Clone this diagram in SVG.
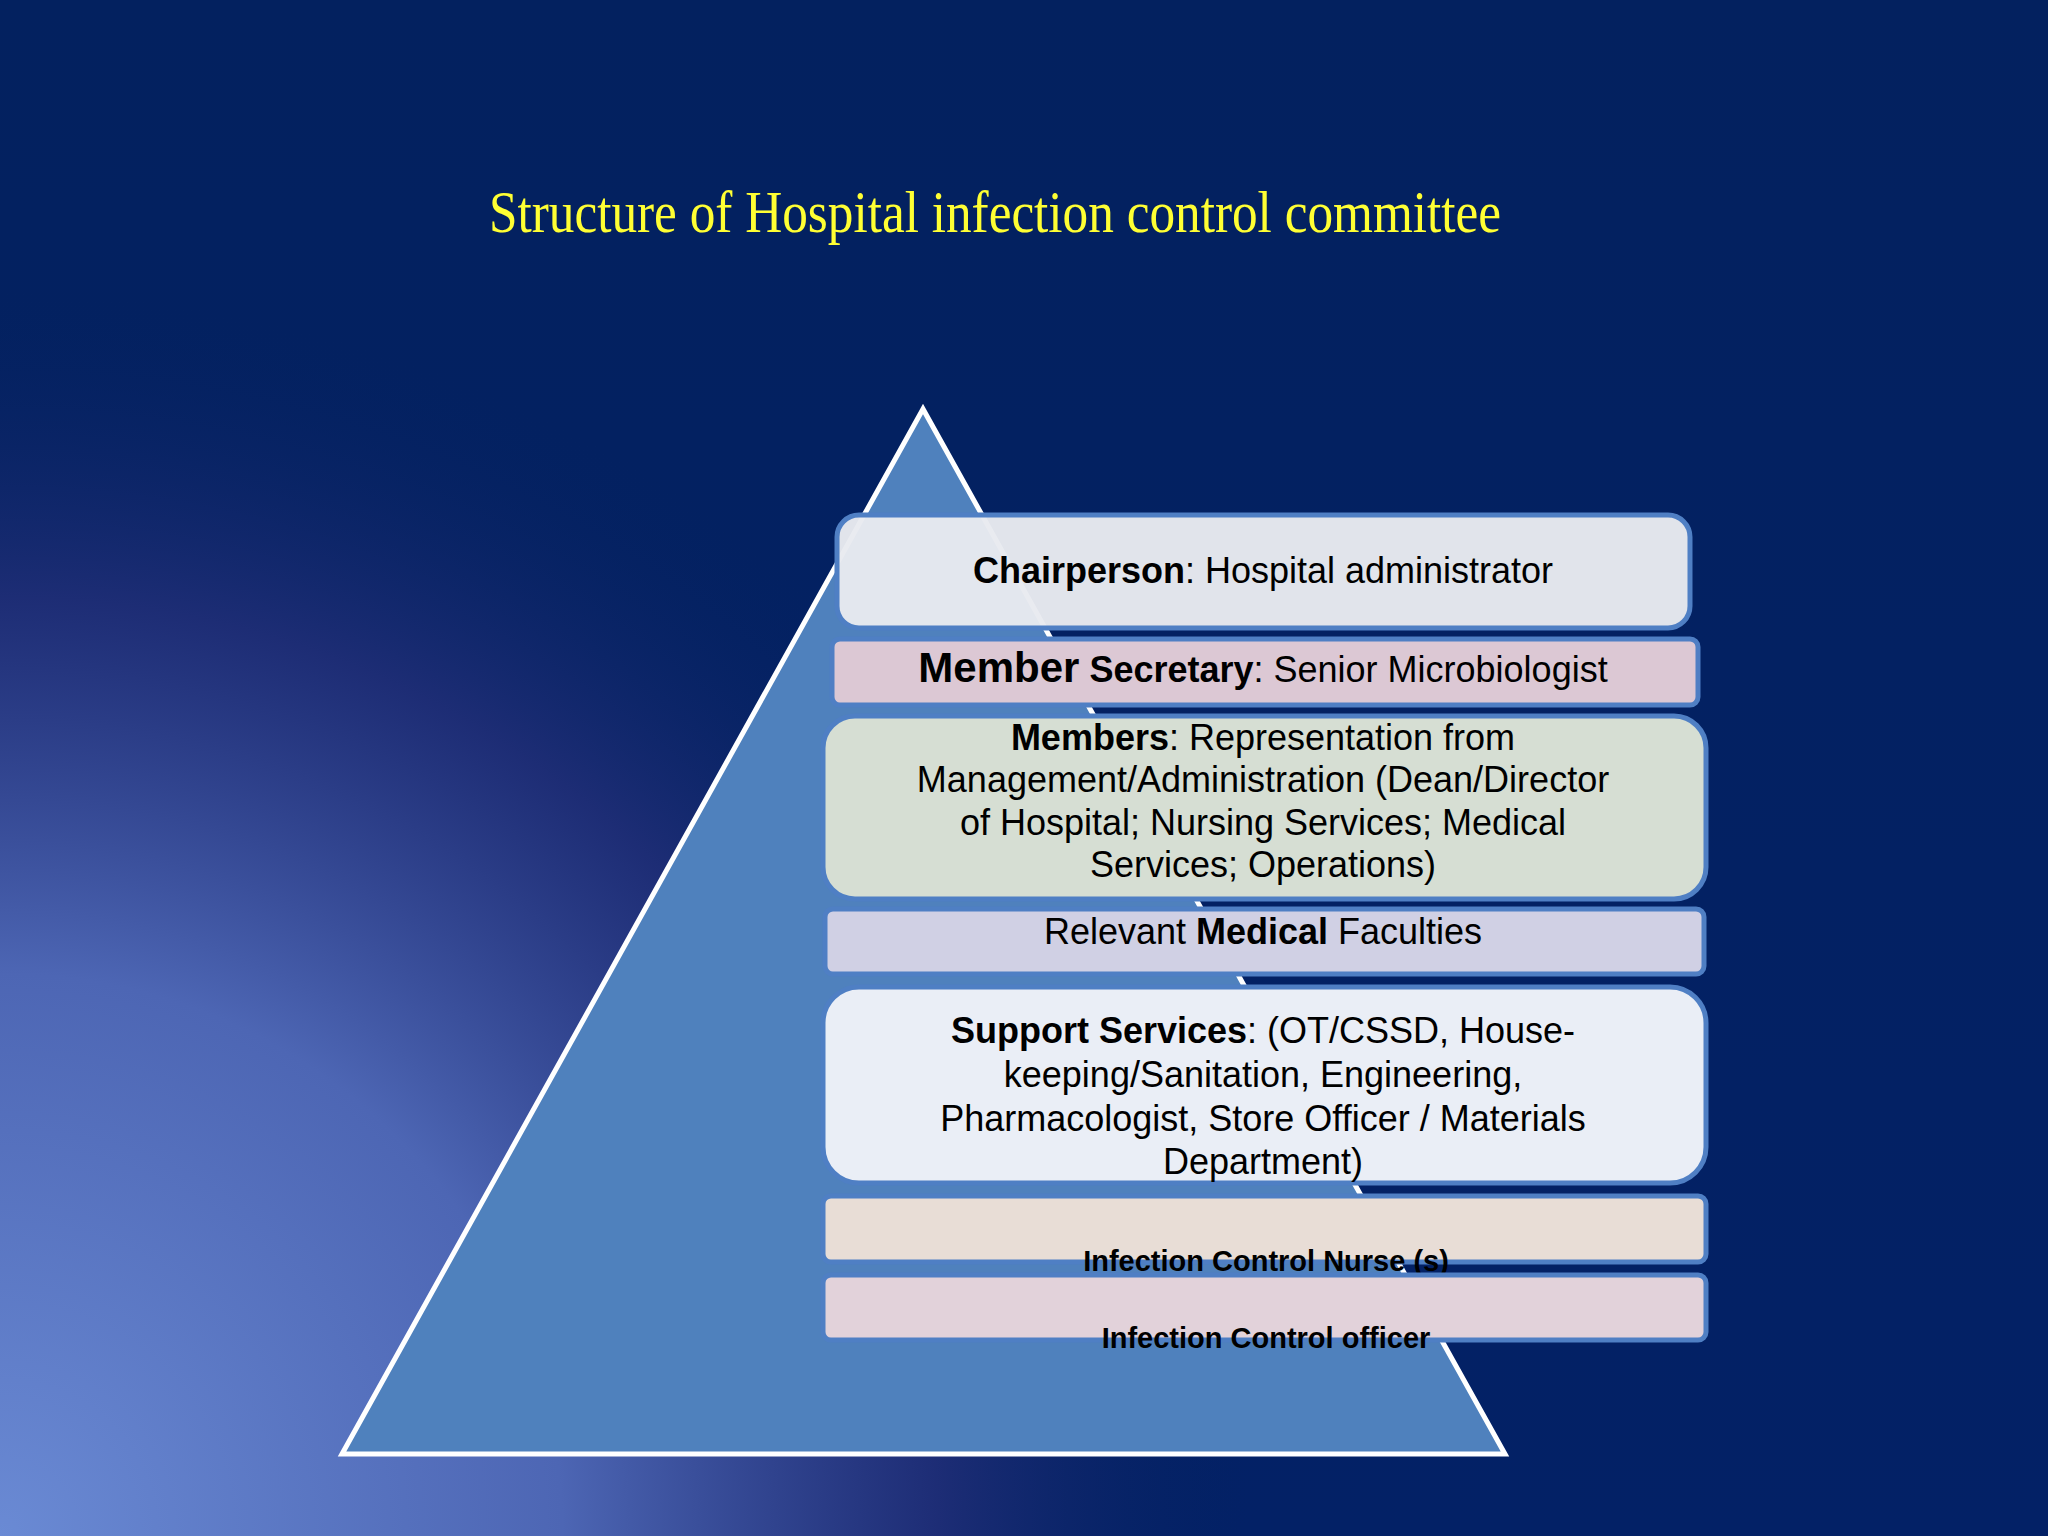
<svg xmlns="http://www.w3.org/2000/svg" width="2048" height="1536" viewBox="0 0 2048 1536">
<defs>
<linearGradient id="bg" x1="0" y1="0" x2="0" y2="1"><stop offset="0" stop-color="#03215f"/><stop offset="1" stop-color="#032166"/></linearGradient>
<radialGradient id="glow" cx="0" cy="1536" r="1250" gradientUnits="userSpaceOnUse">
<stop offset="0" stop-color="#6a8ad4"/><stop offset="0.45" stop-color="#4d66b4"/><stop offset="0.75" stop-color="#24307a" stop-opacity="0.8"/><stop offset="1" stop-color="#03215f" stop-opacity="0"/></radialGradient>
<style>
.box{stroke:#4f7fc4;stroke-width:5}
.t{font-family:"Liberation Sans",Arial,sans-serif;font-size:36px;fill:#000;text-anchor:middle}
.b{font-weight:bold}
.s{font-size:29px;font-weight:bold}
</style>
</defs>
<rect width="2048" height="1536" fill="url(#bg)"/>
<rect width="2048" height="1536" fill="url(#glow)"/>
<text x="995" y="232" font-family="'Liberation Serif',serif" font-size="60" fill="#ffff33" text-anchor="middle" textLength="1012" lengthAdjust="spacingAndGlyphs">Structure of Hospital infection control committee</text>
<g id="pyramid"><polygon points="923,409 342,1454 1505,1454" fill="#4f81bd" stroke="#ffffff" stroke-width="5"/></g>
<g id="chair"><rect class="box" x="837" y="515" width="853" height="113" rx="22" fill="#e8eaf0" fill-opacity="0.97"/>
<text class="t" x="1263" y="583" font-size="42"><tspan class="b">Chairperson</tspan>: Hospital administrator</text></g>
<g id="secretary"><rect class="box" x="832" y="639" width="866" height="66" rx="8" fill="#dcc8d4"/>
<text class="t" x="1263" y="682"><tspan class="b" font-size="42">Member</tspan><tspan class="b"> Secretary</tspan>: Senior Microbiologist</text></g>
<g id="members"><rect class="box" x="823" y="716" width="883" height="183" rx="32" fill="#d6ded3"/>
<text class="t" x="1263" y="750"><tspan class="b">Members</tspan>: Representation from</text>
<text class="t" x="1263" y="792">Management/Administration (Dean/Director</text>
<text class="t" x="1263" y="835">of  Hospital; Nursing Services; Medical</text>
<text class="t" x="1263" y="877">Services;  Operations)</text></g>
<g id="faculties"><rect class="box" x="825" y="909" width="879" height="65" rx="8" fill="#d0d0e4"/>
<text class="t" x="1263" y="944">Relevant <tspan class="b">Medical</tspan> Faculties</text></g>
<g id="support"><rect class="box" x="823" y="987" width="883" height="196" rx="36" fill="#eaeef6"/>
<text class="t" x="1263" y="1043"><tspan class="b">Support Services</tspan>: (OT/CSSD, House-</text>
<text class="t" x="1263" y="1087">keeping/Sanitation, Engineering,</text>
<text class="t" x="1263" y="1131">Pharmacologist,  Store Officer / Materials</text>
<text class="t" x="1263" y="1174">Department)</text></g>
<g id="nurse"><rect class="box" x="823" y="1196" width="883" height="66" rx="8" fill="#e8ddd6"/>
<text class="t s" x="1266" y="1271">Infection Control Nurse (s)</text></g>
<g id="officer"><rect class="box" x="823" y="1275" width="883" height="65" rx="8" fill="#e2d2da"/>
<text class="t s" x="1266" y="1348">Infection Control officer</text></g>
<g id="connectors"/>
</svg>
